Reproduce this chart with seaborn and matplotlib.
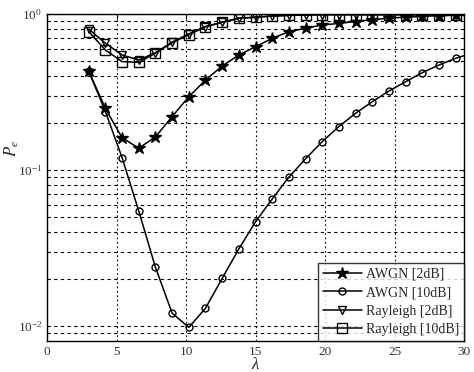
import numpy as np
import pandas as pd
import matplotlib
matplotlib.use('Agg')
from matplotlib import pyplot as plt
from matplotlib.ticker import LogLocator, NullFormatter
import seaborn as sns

# data
lam = [3, 4.2, 5.4, 6.6, 7.8, 9, 10.2, 11.4, 12.6, 13.8, 15, 16.2, 17.4, 18.6,
       19.8, 21, 22.2, 23.4, 24.6, 25.8, 27, 28.2, 29.4, 30]
awgn_2db = [0.43, 0.248, 0.161, 0.138, 0.163, 0.22, 0.295, 0.377, 0.464, 0.546,
            0.617, 0.698, 0.77, 0.81, 0.85, 0.87, 0.895, 0.92, 0.94, 0.955,
            0.965, 0.975, 0.98, 0.98]
awgn_10db = [0.43, 0.237, 0.12, 0.0546, 0.0238, 0.0121, 0.0098, 0.013, 0.0202,
             0.0312, 0.0466, 0.0652, 0.09, 0.118, 0.152, 0.19, 0.231, 0.274,
             0.321, 0.368, 0.421, 0.471, 0.52, 0.54]
rayl_2db = [0.80, 0.65, 0.546, 0.507, 0.565, 0.66, 0.745, 0.83, 0.885, 0.94,
            0.955, 0.97, 0.98, 0.985, 0.99, 0.99, 0.99, 0.99, 0.99, 0.99,
            0.99, 0.99, 0.99, 0.99]
rayl_10db = [0.77, 0.588, 0.495, 0.49, 0.56, 0.655, 0.735, 0.829, 0.884, 0.938,
             0.952, 0.97, 0.98, 0.985, 0.99, 0.99, 0.99, 0.99, 0.99, 0.99,
             0.99, 0.99, 0.99, 0.99]
labels = ['AWGN [2dB]', 'AWGN [10dB]', 'Rayleigh [2dB]', 'Rayleigh [10dB]']

sns.set_style("white")
plt.rcParams['font.family'] = ['Liberation Serif', 'DejaVu Serif']
plt.rcParams['mathtext.fontset'] = 'stix'

fig = plt.figure(figsize=(4.74, 3.72), dpi=100)
ax = fig.add_axes([0.0992, 0.0833, 0.8797, 0.8791])

series = [awgn_2db, awgn_10db, rayl_2db, rayl_10db]
markers = ['*', 'o', 'v', 's']
msizes = [9, 5, 6, 6.5]
faces = ['k', 'none', 'none', 'none']
marked = list(range(len(lam) - 1))
for ys, lab, mk, ms, fc in zip(series, labels, markers, msizes, faces):
    sns.lineplot(x=lam, y=ys, ax=ax, color='k', linewidth=1.1, marker=mk,
                 markersize=ms, markerfacecolor=fc, markeredgecolor='k',
                 markeredgewidth=1.0, markevery=marked, label=lab)

ax.set_yscale('log')
ax.set_xlim(0, 30)
ax.set_ylim(10 ** -2.096, 1)
ax.set_xticks([0, 5, 10, 15, 20, 25, 30])
ax.yaxis.set_major_locator(LogLocator(base=10, numticks=5))
ax.yaxis.set_minor_locator(LogLocator(base=10, subs=np.arange(2, 10), numticks=20))
ax.yaxis.set_minor_formatter(NullFormatter())

ax.grid(True, axis='y', which='both', color='k', linestyle=(0, (3, 3)), linewidth=0.8)
ax.grid(True, axis='x', which='major', color='k', linestyle=(0, (1.5, 2.5)), linewidth=0.8)
ax.tick_params(axis='both', which='both', direction='in', labelsize=9.5,
               top=True, right=True, colors='k', labelcolor='#333333')
for sp in ax.spines.values():
    sp.set_color('k')
    sp.set_linewidth(1.0)

ax.set_xlabel('λ', fontsize=12, fontstyle='italic')
ax.set_ylabel(r'$P_e$', fontsize=12)
ax.xaxis.set_label_coords(0.5, -0.072)
ax.xaxis.label.set_va('center')
ax.yaxis.set_label_coords(-0.085, 0.59)
ax.yaxis.label.set_va('center')

leg = ax.legend(loc='lower right', fontsize=10, borderaxespad=0, frameon=True,
                fancybox=False, handlelength=2.8, labelspacing=0.4,
                borderpad=0.35, handletextpad=0.3)
leg.get_frame().set_edgecolor('k')
leg.get_frame().set_linewidth(1.0)

fig.savefig('out.png', dpi=100)
